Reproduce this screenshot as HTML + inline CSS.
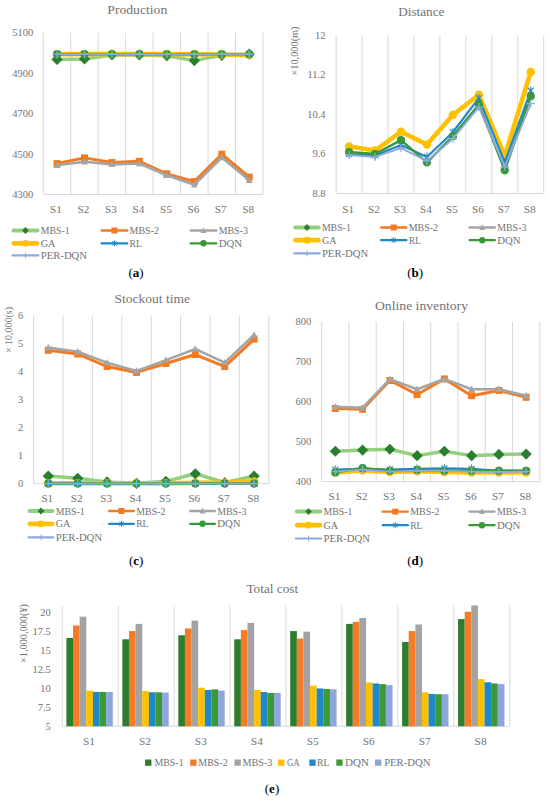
<!DOCTYPE html>
<html><head><meta charset="utf-8"><style>
html,body{margin:0;padding:0;background:#fff;}
svg{display:block;}
</style></head><body>
<svg width="550" height="800" viewBox="0 0 550 800">
<rect width="550" height="800" fill="#fff"/>
<line x1="43.30" y1="32.70" x2="43.30" y2="194.50" stroke="#D9D9D9" stroke-width="1"/>
<line x1="70.76" y1="32.70" x2="70.76" y2="194.50" stroke="#D9D9D9" stroke-width="1"/>
<line x1="98.22" y1="32.70" x2="98.22" y2="194.50" stroke="#D9D9D9" stroke-width="1"/>
<line x1="125.68" y1="32.70" x2="125.68" y2="194.50" stroke="#D9D9D9" stroke-width="1"/>
<line x1="153.14" y1="32.70" x2="153.14" y2="194.50" stroke="#D9D9D9" stroke-width="1"/>
<line x1="180.60" y1="32.70" x2="180.60" y2="194.50" stroke="#D9D9D9" stroke-width="1"/>
<line x1="208.06" y1="32.70" x2="208.06" y2="194.50" stroke="#D9D9D9" stroke-width="1"/>
<line x1="235.52" y1="32.70" x2="235.52" y2="194.50" stroke="#D9D9D9" stroke-width="1"/>
<line x1="262.98" y1="32.70" x2="262.98" y2="194.50" stroke="#D9D9D9" stroke-width="1"/>
<line x1="43.30" y1="194.50" x2="262.98" y2="194.50" stroke="#D9D9D9" stroke-width="1"/>
<text x="33.20" y="36.20" font-size="10.5" text-anchor="end" fill="#737373" font-weight="normal" font-family='"Liberation Serif", serif' >5100</text>
<text x="33.20" y="76.65" font-size="10.5" text-anchor="end" fill="#737373" font-weight="normal" font-family='"Liberation Serif", serif' >4900</text>
<text x="33.20" y="117.10" font-size="10.5" text-anchor="end" fill="#737373" font-weight="normal" font-family='"Liberation Serif", serif' >4700</text>
<text x="33.20" y="157.55" font-size="10.5" text-anchor="end" fill="#737373" font-weight="normal" font-family='"Liberation Serif", serif' >4500</text>
<text x="33.20" y="198.00" font-size="10.5" text-anchor="end" fill="#737373" font-weight="normal" font-family='"Liberation Serif", serif' >4300</text>
<text x="56.03" y="213.30" font-size="10.5" text-anchor="middle" fill="#737373" font-weight="normal" font-family='"Liberation Serif", serif' textLength="11.8" lengthAdjust="spacingAndGlyphs" >S1</text>
<text x="83.49" y="213.30" font-size="10.5" text-anchor="middle" fill="#737373" font-weight="normal" font-family='"Liberation Serif", serif' textLength="11.8" lengthAdjust="spacingAndGlyphs" >S2</text>
<text x="110.95" y="213.30" font-size="10.5" text-anchor="middle" fill="#737373" font-weight="normal" font-family='"Liberation Serif", serif' textLength="11.8" lengthAdjust="spacingAndGlyphs" >S3</text>
<text x="138.41" y="213.30" font-size="10.5" text-anchor="middle" fill="#737373" font-weight="normal" font-family='"Liberation Serif", serif' textLength="11.8" lengthAdjust="spacingAndGlyphs" >S4</text>
<text x="165.87" y="213.30" font-size="10.5" text-anchor="middle" fill="#737373" font-weight="normal" font-family='"Liberation Serif", serif' textLength="11.8" lengthAdjust="spacingAndGlyphs" >S5</text>
<text x="193.33" y="213.30" font-size="10.5" text-anchor="middle" fill="#737373" font-weight="normal" font-family='"Liberation Serif", serif' textLength="11.8" lengthAdjust="spacingAndGlyphs" >S6</text>
<text x="220.79" y="213.30" font-size="10.5" text-anchor="middle" fill="#737373" font-weight="normal" font-family='"Liberation Serif", serif' textLength="11.8" lengthAdjust="spacingAndGlyphs" >S7</text>
<text x="248.25" y="213.30" font-size="10.5" text-anchor="middle" fill="#737373" font-weight="normal" font-family='"Liberation Serif", serif' textLength="11.8" lengthAdjust="spacingAndGlyphs" >S8</text>
<text x="107.30" y="14.20" font-size="13.5" text-anchor="start" fill="#737373" font-weight="normal" font-family='"Liberation Serif", serif' textLength="60" lengthAdjust="spacingAndGlyphs" >Production</text>
<polyline points="57.03,59.40 84.49,58.99 111.95,54.95 139.41,54.95 166.87,55.76 194.33,60.61 221.79,55.35 249.25,54.14" fill="none" stroke="#92D07E" stroke-width="3.5" stroke-linejoin="round"/>
<polygon points="57.03,53.79699999999999 62.63,59.39699999999999 57.03,64.99699999999999 51.43,59.39699999999999" fill="#2A7F2E"/>
<polygon points="84.49,53.39249999999998 90.08999999999999,58.99249999999998 84.49,64.59249999999997 78.89,58.99249999999998" fill="#2A7F2E"/>
<polygon points="111.95,49.34749999999999 117.55,54.94749999999999 111.95,60.54749999999999 106.35000000000001,54.94749999999999" fill="#2A7F2E"/>
<polygon points="139.41,49.34749999999999 145.01,54.94749999999999 139.41,60.54749999999999 133.81,54.94749999999999" fill="#2A7F2E"/>
<polygon points="166.87,50.15649999999999 172.47,55.75649999999999 166.87,61.35649999999999 161.27,55.75649999999999" fill="#2A7F2E"/>
<polygon points="194.32999999999998,55.0105 199.92999999999998,60.6105 194.32999999999998,66.2105 188.73,60.6105" fill="#2A7F2E"/>
<polygon points="221.79000000000002,49.752 227.39000000000001,55.352000000000004 221.79000000000002,60.952000000000005 216.19000000000003,55.352000000000004" fill="#2A7F2E"/>
<polygon points="249.25,48.53849999999999 254.85,54.13849999999999 249.25,59.738499999999995 243.65,54.13849999999999" fill="#2A7F2E"/>
<polyline points="57.03,163.56 84.49,157.89 111.95,162.54 139.41,161.33 166.87,173.87 194.33,181.56 221.79,154.25 249.25,177.11" fill="none" stroke="#F47A22" stroke-width="3.0" stroke-linejoin="round"/>
<rect x="53.53" y="160.06" width="7.0" height="7.0" fill="#F47A22"/>
<rect x="80.99" y="154.39" width="7.0" height="7.0" fill="#F47A22"/>
<rect x="108.45" y="159.04" width="7.0" height="7.0" fill="#F47A22"/>
<rect x="135.91" y="157.83" width="7.0" height="7.0" fill="#F47A22"/>
<rect x="163.37" y="170.37" width="7.0" height="7.0" fill="#F47A22"/>
<rect x="190.83" y="178.06" width="7.0" height="7.0" fill="#F47A22"/>
<rect x="218.29" y="150.75" width="7.0" height="7.0" fill="#F47A22"/>
<rect x="245.75" y="173.61" width="7.0" height="7.0" fill="#F47A22"/>
<polyline points="57.03,165.17 84.49,161.74 111.95,164.36 139.41,163.56 166.87,175.29 194.33,184.79 221.79,157.49 249.25,180.34" fill="none" stroke="#A5A5A5" stroke-width="2.6" stroke-linejoin="round"/>
<polygon points="57.03,161.43 60.43,167.89 53.63,167.89" fill="#A5A5A5"/>
<polygon points="84.49,158.00 87.89,164.46 81.09,164.46" fill="#A5A5A5"/>
<polygon points="111.95,160.62 115.35,167.08 108.55,167.08" fill="#A5A5A5"/>
<polygon points="139.41,159.82 142.81,166.28 136.01,166.28" fill="#A5A5A5"/>
<polygon points="166.87,171.55 170.27,178.01 163.47,178.01" fill="#A5A5A5"/>
<polygon points="194.32999999999998,181.05 197.73,187.51 190.93,187.51" fill="#A5A5A5"/>
<polygon points="221.79000000000002,153.75 225.19,160.21 218.39,160.21" fill="#A5A5A5"/>
<polygon points="249.25,176.60 252.65,183.06 245.85,183.06" fill="#A5A5A5"/>
<polyline points="57.03,54.14 84.49,54.14 111.95,54.14 139.41,54.14 166.87,54.14 194.33,54.34 221.79,54.54 249.25,55.15" fill="none" stroke="#FFC000" stroke-width="4.6" stroke-linejoin="round"/>
<circle cx="57.03" cy="54.14" r="4.2" fill="#FFC000"/>
<circle cx="84.49" cy="54.14" r="4.2" fill="#FFC000"/>
<circle cx="111.95" cy="54.14" r="4.2" fill="#FFC000"/>
<circle cx="139.41" cy="54.14" r="4.2" fill="#FFC000"/>
<circle cx="166.87" cy="54.14" r="4.2" fill="#FFC000"/>
<circle cx="194.33" cy="54.34" r="4.2" fill="#FFC000"/>
<circle cx="221.79" cy="54.54" r="4.2" fill="#FFC000"/>
<circle cx="249.25" cy="55.15" r="4.2" fill="#FFC000"/>
<polyline points="57.03,54.14 84.49,54.14 111.95,54.14 139.41,54.14 166.87,54.14 194.33,54.14 221.79,54.14 249.25,54.14" fill="none" stroke="#1F88C8" stroke-width="2.2" stroke-linejoin="round"/>
<path d="M54.01,51.11L60.05,57.16M60.05,51.11L54.01,57.16M57.03,49.94L57.03,58.34" stroke="#1F88C8" stroke-width="1.1" fill="none"/>
<path d="M81.47,51.11L87.51,57.16M87.51,51.11L81.47,57.16M84.49,49.94L84.49,58.34" stroke="#1F88C8" stroke-width="1.1" fill="none"/>
<path d="M108.93,51.11L114.97,57.16M114.97,51.11L108.93,57.16M111.95,49.94L111.95,58.34" stroke="#1F88C8" stroke-width="1.1" fill="none"/>
<path d="M136.39,51.11L142.43,57.16M142.43,51.11L136.39,57.16M139.41,49.94L139.41,58.34" stroke="#1F88C8" stroke-width="1.1" fill="none"/>
<path d="M163.85,51.11L169.89,57.16M169.89,51.11L163.85,57.16M166.87,49.94L166.87,58.34" stroke="#1F88C8" stroke-width="1.1" fill="none"/>
<path d="M191.31,51.11L197.35,57.16M197.35,51.11L191.31,57.16M194.33,49.94L194.33,58.34" stroke="#1F88C8" stroke-width="1.1" fill="none"/>
<path d="M218.77,51.11L224.81,57.16M224.81,51.11L218.77,57.16M221.79,49.94L221.79,58.34" stroke="#1F88C8" stroke-width="1.1" fill="none"/>
<path d="M246.23,51.11L252.27,57.16M252.27,51.11L246.23,57.16M249.25,49.94L249.25,58.34" stroke="#1F88C8" stroke-width="1.1" fill="none"/>
<polyline points="57.03,54.14 84.49,54.14 111.95,54.14 139.41,54.14 166.87,54.14 194.33,54.14 221.79,54.14 249.25,54.14" fill="none" stroke="#38993A" stroke-width="2.4" stroke-linejoin="round"/>
<circle cx="57.03" cy="54.14" r="4.1" fill="#38993A"/>
<circle cx="84.49" cy="54.14" r="4.1" fill="#38993A"/>
<circle cx="111.95" cy="54.14" r="4.1" fill="#38993A"/>
<circle cx="139.41" cy="54.14" r="4.1" fill="#38993A"/>
<circle cx="166.87" cy="54.14" r="4.1" fill="#38993A"/>
<circle cx="194.33" cy="54.14" r="4.1" fill="#38993A"/>
<circle cx="221.79" cy="54.14" r="4.1" fill="#38993A"/>
<circle cx="249.25" cy="54.14" r="4.1" fill="#38993A"/>
<polyline points="57.03,54.14 84.49,54.14 111.95,54.14 139.41,54.14 166.87,54.14 194.33,54.14 221.79,54.14 249.25,54.14" fill="none" stroke="#8EA9DB" stroke-width="1.9" stroke-linejoin="round"/>
<path d="M53.03,54.14L61.03,54.14M57.03,50.14L57.03,58.14" stroke="#8EA9DB" stroke-width="1.2" fill="none"/>
<path d="M80.49,54.14L88.49,54.14M84.49,50.14L84.49,58.14" stroke="#8EA9DB" stroke-width="1.2" fill="none"/>
<path d="M107.95,54.14L115.95,54.14M111.95,50.14L111.95,58.14" stroke="#8EA9DB" stroke-width="1.2" fill="none"/>
<path d="M135.41,54.14L143.41,54.14M139.41,50.14L139.41,58.14" stroke="#8EA9DB" stroke-width="1.2" fill="none"/>
<path d="M162.87,54.14L170.87,54.14M166.87,50.14L166.87,58.14" stroke="#8EA9DB" stroke-width="1.2" fill="none"/>
<path d="M190.33,54.14L198.33,54.14M194.33,50.14L194.33,58.14" stroke="#8EA9DB" stroke-width="1.2" fill="none"/>
<path d="M217.79,54.14L225.79,54.14M221.79,50.14L221.79,58.14" stroke="#8EA9DB" stroke-width="1.2" fill="none"/>
<path d="M245.25,54.14L253.25,54.14M249.25,50.14L249.25,58.14" stroke="#8EA9DB" stroke-width="1.2" fill="none"/>
<line x1="13.50" y1="230.50" x2="37.50" y2="230.50" stroke="#92D07E" stroke-width="4.0" stroke-linecap="round"/>
<polygon points="25.5,227.1 28.9,230.5 25.5,233.9 22.1,230.5" fill="#2A7F2E"/>
<text x="40.70" y="234.10" font-size="10.7" text-anchor="start" fill="#737373" font-weight="normal" font-family='"Liberation Serif", serif' textLength="28.9" lengthAdjust="spacingAndGlyphs" >MBS-1</text>
<line x1="101.60" y1="230.50" x2="127.20" y2="230.50" stroke="#F47A22" stroke-width="2.4" stroke-linecap="round"/>
<rect x="111.40" y="227.50" width="6.0" height="6.0" fill="#F47A22"/>
<text x="129.60" y="234.10" font-size="10.7" text-anchor="start" fill="#737373" font-weight="normal" font-family='"Liberation Serif", serif' textLength="29.4" lengthAdjust="spacingAndGlyphs" >MBS-2</text>
<line x1="190.70" y1="230.50" x2="216.30" y2="230.50" stroke="#A5A5A5" stroke-width="2.4" stroke-linecap="round"/>
<polygon points="203.5,227.20 206.50,232.90 200.50,232.90" fill="#A5A5A5"/>
<text x="218.70" y="234.10" font-size="10.7" text-anchor="start" fill="#737373" font-weight="normal" font-family='"Liberation Serif", serif' textLength="29.2" lengthAdjust="spacingAndGlyphs" >MBS-3</text>
<line x1="13.90" y1="243.30" x2="37.10" y2="243.30" stroke="#FFC000" stroke-width="4.8" stroke-linecap="round"/>
<circle cx="25.50" cy="243.30" r="3.4" fill="#FFC000"/>
<text x="40.70" y="246.90" font-size="10.7" text-anchor="start" fill="#737373" font-weight="normal" font-family='"Liberation Serif", serif' textLength="14.7" lengthAdjust="spacingAndGlyphs" >GA</text>
<line x1="101.50" y1="243.30" x2="127.30" y2="243.30" stroke="#1F88C8" stroke-width="2.2" stroke-linecap="round"/>
<path d="M112.24,241.14L116.56,245.46M116.56,241.14L112.24,245.46M114.40,240.30L114.40,246.30" stroke="#1F88C8" stroke-width="1.0" fill="none"/>
<text x="129.60" y="246.90" font-size="10.7" text-anchor="start" fill="#737373" font-weight="normal" font-family='"Liberation Serif", serif' textLength="12.3" lengthAdjust="spacingAndGlyphs" >RL</text>
<line x1="190.60" y1="243.30" x2="216.40" y2="243.30" stroke="#38993A" stroke-width="2.2" stroke-linecap="round"/>
<circle cx="203.50" cy="243.30" r="3.2" fill="#38993A"/>
<text x="218.70" y="246.90" font-size="10.7" text-anchor="start" fill="#737373" font-weight="normal" font-family='"Liberation Serif", serif' textLength="23.4" lengthAdjust="spacingAndGlyphs" >DQN</text>
<line x1="12.60" y1="255.40" x2="38.40" y2="255.40" stroke="#8EA9DB" stroke-width="2.2" stroke-linecap="round"/>
<path d="M22.60,255.40L28.40,255.40M25.50,252.50L25.50,258.30" stroke="#8EA9DB" stroke-width="1.0" fill="none"/>
<text x="40.70" y="259.00" font-size="10.7" text-anchor="start" fill="#737373" font-weight="normal" font-family='"Liberation Serif", serif' textLength="46.4" lengthAdjust="spacingAndGlyphs" >PER-DQN</text>
<text x="136" y="277" font-size="13" text-anchor="middle" fill="#000" font-family='"Liberation Serif", serif'>(<tspan font-weight="bold">a</tspan>)</text>
<line x1="336.10" y1="35.40" x2="336.10" y2="193.50" stroke="#D9D9D9" stroke-width="1"/>
<line x1="362.05" y1="35.40" x2="362.05" y2="193.50" stroke="#D9D9D9" stroke-width="1"/>
<line x1="388.00" y1="35.40" x2="388.00" y2="193.50" stroke="#D9D9D9" stroke-width="1"/>
<line x1="413.95" y1="35.40" x2="413.95" y2="193.50" stroke="#D9D9D9" stroke-width="1"/>
<line x1="439.90" y1="35.40" x2="439.90" y2="193.50" stroke="#D9D9D9" stroke-width="1"/>
<line x1="465.85" y1="35.40" x2="465.85" y2="193.50" stroke="#D9D9D9" stroke-width="1"/>
<line x1="491.80" y1="35.40" x2="491.80" y2="193.50" stroke="#D9D9D9" stroke-width="1"/>
<line x1="517.75" y1="35.40" x2="517.75" y2="193.50" stroke="#D9D9D9" stroke-width="1"/>
<line x1="543.70" y1="35.40" x2="543.70" y2="193.50" stroke="#D9D9D9" stroke-width="1"/>
<line x1="336.10" y1="193.50" x2="543.70" y2="193.50" stroke="#D9D9D9" stroke-width="1"/>
<text x="325.50" y="38.90" font-size="10.5" text-anchor="end" fill="#737373" font-weight="normal" font-family='"Liberation Serif", serif' >12</text>
<text x="325.50" y="78.43" font-size="10.5" text-anchor="end" fill="#737373" font-weight="normal" font-family='"Liberation Serif", serif' >11.2</text>
<text x="325.50" y="117.95" font-size="10.5" text-anchor="end" fill="#737373" font-weight="normal" font-family='"Liberation Serif", serif' >10.4</text>
<text x="325.50" y="157.48" font-size="10.5" text-anchor="end" fill="#737373" font-weight="normal" font-family='"Liberation Serif", serif' >9.6</text>
<text x="325.50" y="197.00" font-size="10.5" text-anchor="end" fill="#737373" font-weight="normal" font-family='"Liberation Serif", serif' >8.8</text>
<text x="348.08" y="212.50" font-size="10.5" text-anchor="middle" fill="#737373" font-weight="normal" font-family='"Liberation Serif", serif' textLength="11.8" lengthAdjust="spacingAndGlyphs" >S1</text>
<text x="374.03" y="212.50" font-size="10.5" text-anchor="middle" fill="#737373" font-weight="normal" font-family='"Liberation Serif", serif' textLength="11.8" lengthAdjust="spacingAndGlyphs" >S2</text>
<text x="399.98" y="212.50" font-size="10.5" text-anchor="middle" fill="#737373" font-weight="normal" font-family='"Liberation Serif", serif' textLength="11.8" lengthAdjust="spacingAndGlyphs" >S3</text>
<text x="425.93" y="212.50" font-size="10.5" text-anchor="middle" fill="#737373" font-weight="normal" font-family='"Liberation Serif", serif' textLength="11.8" lengthAdjust="spacingAndGlyphs" >S4</text>
<text x="451.88" y="212.50" font-size="10.5" text-anchor="middle" fill="#737373" font-weight="normal" font-family='"Liberation Serif", serif' textLength="11.8" lengthAdjust="spacingAndGlyphs" >S5</text>
<text x="477.83" y="212.50" font-size="10.5" text-anchor="middle" fill="#737373" font-weight="normal" font-family='"Liberation Serif", serif' textLength="11.8" lengthAdjust="spacingAndGlyphs" >S6</text>
<text x="503.77" y="212.50" font-size="10.5" text-anchor="middle" fill="#737373" font-weight="normal" font-family='"Liberation Serif", serif' textLength="11.8" lengthAdjust="spacingAndGlyphs" >S7</text>
<text x="529.73" y="212.50" font-size="10.5" text-anchor="middle" fill="#737373" font-weight="normal" font-family='"Liberation Serif", serif' textLength="11.8" lengthAdjust="spacingAndGlyphs" >S8</text>
<text x="398.20" y="16.40" font-size="13.5" text-anchor="start" fill="#737373" font-weight="normal" font-family='"Liberation Serif", serif' textLength="46.3" lengthAdjust="spacingAndGlyphs" >Distance</text>
<polyline points="349.08,146.56 375.03,150.52 400.98,131.74 426.93,144.59 452.88,114.94 478.83,94.69 504.77,155.95 530.73,71.96" fill="none" stroke="#FFC000" stroke-width="4.6" stroke-linejoin="round"/>
<circle cx="349.08" cy="146.56" r="4.2" fill="#FFC000"/>
<circle cx="375.03" cy="150.52" r="4.2" fill="#FFC000"/>
<circle cx="400.98" cy="131.74" r="4.2" fill="#FFC000"/>
<circle cx="426.93" cy="144.59" r="4.2" fill="#FFC000"/>
<circle cx="452.88" cy="114.94" r="4.2" fill="#FFC000"/>
<circle cx="478.83" cy="94.69" r="4.2" fill="#FFC000"/>
<circle cx="504.77" cy="155.95" r="4.2" fill="#FFC000"/>
<circle cx="530.73" cy="71.96" r="4.2" fill="#FFC000"/>
<polyline points="349.08,153.98 375.03,155.46 400.98,145.08 426.93,156.94 452.88,132.24 478.83,98.15 504.77,162.37 530.73,90.73" fill="none" stroke="#1F88C8" stroke-width="2.2" stroke-linejoin="round"/>
<path d="M346.05,150.95L352.10,157.00M352.10,150.95L346.05,157.00M349.08,149.78L349.08,158.18" stroke="#1F88C8" stroke-width="1.1" fill="none"/>
<path d="M372.00,152.43L378.05,158.48M378.05,152.43L372.00,158.48M375.03,151.26L375.03,159.66" stroke="#1F88C8" stroke-width="1.1" fill="none"/>
<path d="M397.95,142.06L404.00,148.11M404.00,142.06L397.95,148.11M400.98,140.88L400.98,149.28" stroke="#1F88C8" stroke-width="1.1" fill="none"/>
<path d="M423.90,153.92L429.95,159.96M429.95,153.92L423.90,159.96M426.93,152.74L426.93,161.14" stroke="#1F88C8" stroke-width="1.1" fill="none"/>
<path d="M449.85,129.21L455.90,135.26M455.90,129.21L449.85,135.26M452.88,128.04L452.88,136.44" stroke="#1F88C8" stroke-width="1.1" fill="none"/>
<path d="M475.80,95.12L481.85,101.17M481.85,95.12L475.80,101.17M478.83,93.95L478.83,102.35" stroke="#1F88C8" stroke-width="1.1" fill="none"/>
<path d="M501.75,159.35L507.80,165.40M507.80,159.35L501.75,165.40M504.77,158.17L504.77,166.57" stroke="#1F88C8" stroke-width="1.1" fill="none"/>
<path d="M527.70,87.71L533.75,93.76M533.75,87.71L527.70,93.76M530.73,86.53L530.73,94.93" stroke="#1F88C8" stroke-width="1.1" fill="none"/>
<polyline points="349.08,152.00 375.03,153.98 400.98,140.14 426.93,162.37 452.88,136.19 478.83,104.57 504.77,170.28 530.73,96.17" fill="none" stroke="#38993A" stroke-width="2.4" stroke-linejoin="round"/>
<circle cx="349.08" cy="152.00" r="4.1" fill="#38993A"/>
<circle cx="375.03" cy="153.98" r="4.1" fill="#38993A"/>
<circle cx="400.98" cy="140.14" r="4.1" fill="#38993A"/>
<circle cx="426.93" cy="162.37" r="4.1" fill="#38993A"/>
<circle cx="452.88" cy="136.19" r="4.1" fill="#38993A"/>
<circle cx="478.83" cy="104.57" r="4.1" fill="#38993A"/>
<circle cx="504.77" cy="170.28" r="4.1" fill="#38993A"/>
<circle cx="530.73" cy="96.17" r="4.1" fill="#38993A"/>
<polyline points="349.08,154.96 375.03,156.94 400.98,148.05 426.93,160.89 452.88,138.66 478.83,107.04 504.77,166.82 530.73,103.58" fill="none" stroke="#8EA9DB" stroke-width="1.9" stroke-linejoin="round"/>
<path d="M345.08,154.96L353.08,154.96M349.08,150.96L349.08,158.96" stroke="#8EA9DB" stroke-width="1.2" fill="none"/>
<path d="M371.03,156.94L379.03,156.94M375.03,152.94L375.03,160.94" stroke="#8EA9DB" stroke-width="1.2" fill="none"/>
<path d="M396.98,148.05L404.98,148.05M400.98,144.05L400.98,152.05" stroke="#8EA9DB" stroke-width="1.2" fill="none"/>
<path d="M422.93,160.89L430.93,160.89M426.93,156.89L426.93,164.89" stroke="#8EA9DB" stroke-width="1.2" fill="none"/>
<path d="M448.88,138.66L456.88,138.66M452.88,134.66L452.88,142.66" stroke="#8EA9DB" stroke-width="1.2" fill="none"/>
<path d="M474.83,107.04L482.83,107.04M478.83,103.04L478.83,111.04" stroke="#8EA9DB" stroke-width="1.2" fill="none"/>
<path d="M500.77,166.82L508.77,166.82M504.77,162.82L504.77,170.82" stroke="#8EA9DB" stroke-width="1.2" fill="none"/>
<path d="M526.73,103.58L534.73,103.58M530.73,99.58L530.73,107.58" stroke="#8EA9DB" stroke-width="1.2" fill="none"/>
<line x1="295.20" y1="227.50" x2="318.70" y2="227.50" stroke="#92D07E" stroke-width="4.0" stroke-linecap="round"/>
<polygon points="306.95,224.1 310.34999999999997,227.5 306.95,230.9 303.55,227.5" fill="#2A7F2E"/>
<text x="321.90" y="231.10" font-size="10.7" text-anchor="start" fill="#737373" font-weight="normal" font-family='"Liberation Serif", serif' textLength="28.9" lengthAdjust="spacingAndGlyphs" >MBS-1</text>
<line x1="381.20" y1="227.50" x2="406.30" y2="227.50" stroke="#F47A22" stroke-width="2.4" stroke-linecap="round"/>
<rect x="390.75" y="224.50" width="6.0" height="6.0" fill="#F47A22"/>
<text x="408.70" y="231.10" font-size="10.7" text-anchor="start" fill="#737373" font-weight="normal" font-family='"Liberation Serif", serif' textLength="29.4" lengthAdjust="spacingAndGlyphs" >MBS-2</text>
<line x1="469.70" y1="227.50" x2="494.80" y2="227.50" stroke="#A5A5A5" stroke-width="2.4" stroke-linecap="round"/>
<polygon points="482.25,224.20 485.25,229.90 479.25,229.90" fill="#A5A5A5"/>
<text x="497.20" y="231.10" font-size="10.7" text-anchor="start" fill="#737373" font-weight="normal" font-family='"Liberation Serif", serif' textLength="29.2" lengthAdjust="spacingAndGlyphs" >MBS-3</text>
<line x1="295.60" y1="240.20" x2="318.30" y2="240.20" stroke="#FFC000" stroke-width="4.8" stroke-linecap="round"/>
<circle cx="306.95" cy="240.20" r="3.4" fill="#FFC000"/>
<text x="321.90" y="243.80" font-size="10.7" text-anchor="start" fill="#737373" font-weight="normal" font-family='"Liberation Serif", serif' textLength="14.7" lengthAdjust="spacingAndGlyphs" >GA</text>
<line x1="381.10" y1="240.20" x2="406.40" y2="240.20" stroke="#1F88C8" stroke-width="2.2" stroke-linecap="round"/>
<path d="M391.59,238.04L395.91,242.36M395.91,238.04L391.59,242.36M393.75,237.20L393.75,243.20" stroke="#1F88C8" stroke-width="1.0" fill="none"/>
<text x="408.70" y="243.80" font-size="10.7" text-anchor="start" fill="#737373" font-weight="normal" font-family='"Liberation Serif", serif' textLength="12.3" lengthAdjust="spacingAndGlyphs" >RL</text>
<line x1="469.60" y1="240.20" x2="494.90" y2="240.20" stroke="#38993A" stroke-width="2.2" stroke-linecap="round"/>
<circle cx="482.25" cy="240.20" r="3.2" fill="#38993A"/>
<text x="497.20" y="243.80" font-size="10.7" text-anchor="start" fill="#737373" font-weight="normal" font-family='"Liberation Serif", serif' textLength="23.4" lengthAdjust="spacingAndGlyphs" >DQN</text>
<line x1="294.30" y1="253.40" x2="319.60" y2="253.40" stroke="#8EA9DB" stroke-width="2.2" stroke-linecap="round"/>
<path d="M304.05,253.40L309.85,253.40M306.95,250.50L306.95,256.30" stroke="#8EA9DB" stroke-width="1.0" fill="none"/>
<text x="321.90" y="257.00" font-size="10.7" text-anchor="start" fill="#737373" font-weight="normal" font-family='"Liberation Serif", serif' textLength="46.4" lengthAdjust="spacingAndGlyphs" >PER-DQN</text>
<text x="415.2" y="277" font-size="13" text-anchor="middle" fill="#000" font-family='"Liberation Serif", serif'>(<tspan font-weight="bold">b</tspan>)</text>
<text x="0" y="0" transform="translate(298,51) rotate(-90)" font-size="10" text-anchor="middle" fill="#737373" font-family='"Liberation Serif", serif' textLength="49" lengthAdjust="spacingAndGlyphs">×10,000(m)</text>
<line x1="33.60" y1="315.60" x2="33.60" y2="483.60" stroke="#D9D9D9" stroke-width="1"/>
<line x1="63.00" y1="315.60" x2="63.00" y2="483.60" stroke="#D9D9D9" stroke-width="1"/>
<line x1="92.40" y1="315.60" x2="92.40" y2="483.60" stroke="#D9D9D9" stroke-width="1"/>
<line x1="121.80" y1="315.60" x2="121.80" y2="483.60" stroke="#D9D9D9" stroke-width="1"/>
<line x1="151.20" y1="315.60" x2="151.20" y2="483.60" stroke="#D9D9D9" stroke-width="1"/>
<line x1="180.60" y1="315.60" x2="180.60" y2="483.60" stroke="#D9D9D9" stroke-width="1"/>
<line x1="210.00" y1="315.60" x2="210.00" y2="483.60" stroke="#D9D9D9" stroke-width="1"/>
<line x1="239.40" y1="315.60" x2="239.40" y2="483.60" stroke="#D9D9D9" stroke-width="1"/>
<line x1="268.80" y1="315.60" x2="268.80" y2="483.60" stroke="#D9D9D9" stroke-width="1"/>
<line x1="33.60" y1="483.60" x2="268.80" y2="483.60" stroke="#D9D9D9" stroke-width="1"/>
<text x="20.50" y="487.10" font-size="10.5" text-anchor="middle" fill="#737373" font-weight="normal" font-family='"Liberation Serif", serif' >0</text>
<text x="20.50" y="459.10" font-size="10.5" text-anchor="middle" fill="#737373" font-weight="normal" font-family='"Liberation Serif", serif' >1</text>
<text x="20.50" y="431.10" font-size="10.5" text-anchor="middle" fill="#737373" font-weight="normal" font-family='"Liberation Serif", serif' >2</text>
<text x="20.50" y="403.10" font-size="10.5" text-anchor="middle" fill="#737373" font-weight="normal" font-family='"Liberation Serif", serif' >3</text>
<text x="20.50" y="375.10" font-size="10.5" text-anchor="middle" fill="#737373" font-weight="normal" font-family='"Liberation Serif", serif' >4</text>
<text x="20.50" y="347.10" font-size="10.5" text-anchor="middle" fill="#737373" font-weight="normal" font-family='"Liberation Serif", serif' >5</text>
<text x="20.50" y="319.10" font-size="10.5" text-anchor="middle" fill="#737373" font-weight="normal" font-family='"Liberation Serif", serif' >6</text>
<text x="47.30" y="501.90" font-size="10.5" text-anchor="middle" fill="#737373" font-weight="normal" font-family='"Liberation Serif", serif' textLength="11.8" lengthAdjust="spacingAndGlyphs" >S1</text>
<text x="76.70" y="501.90" font-size="10.5" text-anchor="middle" fill="#737373" font-weight="normal" font-family='"Liberation Serif", serif' textLength="11.8" lengthAdjust="spacingAndGlyphs" >S2</text>
<text x="106.10" y="501.90" font-size="10.5" text-anchor="middle" fill="#737373" font-weight="normal" font-family='"Liberation Serif", serif' textLength="11.8" lengthAdjust="spacingAndGlyphs" >S3</text>
<text x="135.50" y="501.90" font-size="10.5" text-anchor="middle" fill="#737373" font-weight="normal" font-family='"Liberation Serif", serif' textLength="11.8" lengthAdjust="spacingAndGlyphs" >S4</text>
<text x="164.90" y="501.90" font-size="10.5" text-anchor="middle" fill="#737373" font-weight="normal" font-family='"Liberation Serif", serif' textLength="11.8" lengthAdjust="spacingAndGlyphs" >S5</text>
<text x="194.30" y="501.90" font-size="10.5" text-anchor="middle" fill="#737373" font-weight="normal" font-family='"Liberation Serif", serif' textLength="11.8" lengthAdjust="spacingAndGlyphs" >S6</text>
<text x="223.70" y="501.90" font-size="10.5" text-anchor="middle" fill="#737373" font-weight="normal" font-family='"Liberation Serif", serif' textLength="11.8" lengthAdjust="spacingAndGlyphs" >S7</text>
<text x="253.10" y="501.90" font-size="10.5" text-anchor="middle" fill="#737373" font-weight="normal" font-family='"Liberation Serif", serif' textLength="11.8" lengthAdjust="spacingAndGlyphs" >S8</text>
<text x="114.40" y="302.60" font-size="13.5" text-anchor="start" fill="#737373" font-weight="normal" font-family='"Liberation Serif", serif' textLength="75.6" lengthAdjust="spacingAndGlyphs" >Stockout time</text>
<polyline points="48.30,476.04 77.70,478.28 107.10,481.92 136.50,483.32 165.90,481.36 195.30,473.80 224.70,482.48 254.10,476.04" fill="none" stroke="#92D07E" stroke-width="3.5" stroke-linejoin="round"/>
<polygon points="48.3,470.44 53.9,476.04 48.3,481.64000000000004 42.699999999999996,476.04" fill="#2A7F2E"/>
<polygon points="77.69999999999999,472.68 83.29999999999998,478.28000000000003 77.69999999999999,483.88000000000005 72.1,478.28000000000003" fill="#2A7F2E"/>
<polygon points="107.1,476.32 112.69999999999999,481.92 107.1,487.52000000000004 101.5,481.92" fill="#2A7F2E"/>
<polygon points="136.5,477.72 142.1,483.32000000000005 136.5,488.9200000000001 130.9,483.32000000000005" fill="#2A7F2E"/>
<polygon points="165.89999999999998,475.76 171.49999999999997,481.36 165.89999999999998,486.96000000000004 160.29999999999998,481.36" fill="#2A7F2E"/>
<polygon points="195.29999999999998,468.2 200.89999999999998,473.8 195.29999999999998,479.40000000000003 189.7,473.8" fill="#2A7F2E"/>
<polygon points="224.7,476.88 230.29999999999998,482.48 224.7,488.08000000000004 219.1,482.48" fill="#2A7F2E"/>
<polygon points="254.1,470.44 259.7,476.04 254.1,481.64000000000004 248.5,476.04" fill="#2A7F2E"/>
<polyline points="48.30,350.32 77.70,353.96 107.10,366.56 136.50,372.44 165.90,363.48 195.30,354.52 224.70,366.56 254.10,339.12" fill="none" stroke="#F47A22" stroke-width="3.0" stroke-linejoin="round"/>
<rect x="44.80" y="346.82" width="7.0" height="7.0" fill="#F47A22"/>
<rect x="74.20" y="350.46" width="7.0" height="7.0" fill="#F47A22"/>
<rect x="103.60" y="363.06" width="7.0" height="7.0" fill="#F47A22"/>
<rect x="133.00" y="368.94" width="7.0" height="7.0" fill="#F47A22"/>
<rect x="162.40" y="359.98" width="7.0" height="7.0" fill="#F47A22"/>
<rect x="191.80" y="351.02" width="7.0" height="7.0" fill="#F47A22"/>
<rect x="221.20" y="363.06" width="7.0" height="7.0" fill="#F47A22"/>
<rect x="250.60" y="335.62" width="7.0" height="7.0" fill="#F47A22"/>
<polyline points="48.30,347.52 77.70,351.72 107.10,362.64 136.50,371.04 165.90,360.12 195.30,348.92 224.70,362.64 254.10,334.92" fill="none" stroke="#A5A5A5" stroke-width="2.6" stroke-linejoin="round"/>
<polygon points="48.3,343.78 51.70,350.24 44.90,350.24" fill="#A5A5A5"/>
<polygon points="77.69999999999999,347.98 81.10,354.44 74.30,354.44" fill="#A5A5A5"/>
<polygon points="107.1,358.90 110.50,365.36 103.70,365.36" fill="#A5A5A5"/>
<polygon points="136.5,367.30 139.90,373.76 133.10,373.76" fill="#A5A5A5"/>
<polygon points="165.89999999999998,356.38 169.30,362.84 162.50,362.84" fill="#A5A5A5"/>
<polygon points="195.29999999999998,345.18 198.70,351.64 191.90,351.64" fill="#A5A5A5"/>
<polygon points="224.7,358.90 228.10,365.36 221.30,365.36" fill="#A5A5A5"/>
<polygon points="254.1,331.18 257.50,337.64 250.70,337.64" fill="#A5A5A5"/>
<polyline points="48.30,483.32 77.70,483.32 107.10,483.32 136.50,483.32 165.90,483.32 195.30,482.76 224.70,482.76 254.10,481.36" fill="none" stroke="#FFC000" stroke-width="4.6" stroke-linejoin="round"/>
<circle cx="48.30" cy="483.32" r="4.2" fill="#FFC000"/>
<circle cx="77.70" cy="483.32" r="4.2" fill="#FFC000"/>
<circle cx="107.10" cy="483.32" r="4.2" fill="#FFC000"/>
<circle cx="136.50" cy="483.32" r="4.2" fill="#FFC000"/>
<circle cx="165.90" cy="483.32" r="4.2" fill="#FFC000"/>
<circle cx="195.30" cy="482.76" r="4.2" fill="#FFC000"/>
<circle cx="224.70" cy="482.76" r="4.2" fill="#FFC000"/>
<circle cx="254.10" cy="481.36" r="4.2" fill="#FFC000"/>
<polyline points="48.30,483.60 77.70,483.60 107.10,483.60 136.50,483.60 165.90,483.60 195.30,483.60 224.70,483.60 254.10,483.60" fill="none" stroke="#1F88C8" stroke-width="2.2" stroke-linejoin="round"/>
<path d="M45.28,480.58L51.32,486.62M51.32,480.58L45.28,486.62M48.30,479.40L48.30,487.80" stroke="#1F88C8" stroke-width="1.1" fill="none"/>
<path d="M74.68,480.58L80.72,486.62M80.72,480.58L74.68,486.62M77.70,479.40L77.70,487.80" stroke="#1F88C8" stroke-width="1.1" fill="none"/>
<path d="M104.08,480.58L110.12,486.62M110.12,480.58L104.08,486.62M107.10,479.40L107.10,487.80" stroke="#1F88C8" stroke-width="1.1" fill="none"/>
<path d="M133.48,480.58L139.52,486.62M139.52,480.58L133.48,486.62M136.50,479.40L136.50,487.80" stroke="#1F88C8" stroke-width="1.1" fill="none"/>
<path d="M162.88,480.58L168.92,486.62M168.92,480.58L162.88,486.62M165.90,479.40L165.90,487.80" stroke="#1F88C8" stroke-width="1.1" fill="none"/>
<path d="M192.28,480.58L198.32,486.62M198.32,480.58L192.28,486.62M195.30,479.40L195.30,487.80" stroke="#1F88C8" stroke-width="1.1" fill="none"/>
<path d="M221.68,480.58L227.72,486.62M227.72,480.58L221.68,486.62M224.70,479.40L224.70,487.80" stroke="#1F88C8" stroke-width="1.1" fill="none"/>
<path d="M251.08,480.58L257.12,486.62M257.12,480.58L251.08,486.62M254.10,479.40L254.10,487.80" stroke="#1F88C8" stroke-width="1.1" fill="none"/>
<polyline points="48.30,483.60 77.70,483.60 107.10,483.60 136.50,483.60 165.90,483.60 195.30,483.60 224.70,483.60 254.10,483.60" fill="none" stroke="#38993A" stroke-width="2.4" stroke-linejoin="round"/>
<circle cx="48.30" cy="483.60" r="4.1" fill="#38993A"/>
<circle cx="77.70" cy="483.60" r="4.1" fill="#38993A"/>
<circle cx="107.10" cy="483.60" r="4.1" fill="#38993A"/>
<circle cx="136.50" cy="483.60" r="4.1" fill="#38993A"/>
<circle cx="165.90" cy="483.60" r="4.1" fill="#38993A"/>
<circle cx="195.30" cy="483.60" r="4.1" fill="#38993A"/>
<circle cx="224.70" cy="483.60" r="4.1" fill="#38993A"/>
<circle cx="254.10" cy="483.60" r="4.1" fill="#38993A"/>
<polyline points="48.30,483.60 77.70,483.60 107.10,483.60 136.50,483.60 165.90,483.60 195.30,483.60 224.70,483.60 254.10,483.60" fill="none" stroke="#8EA9DB" stroke-width="1.9" stroke-linejoin="round"/>
<path d="M44.30,483.60L52.30,483.60M48.30,479.60L48.30,487.60" stroke="#8EA9DB" stroke-width="1.2" fill="none"/>
<path d="M73.70,483.60L81.70,483.60M77.70,479.60L77.70,487.60" stroke="#8EA9DB" stroke-width="1.2" fill="none"/>
<path d="M103.10,483.60L111.10,483.60M107.10,479.60L107.10,487.60" stroke="#8EA9DB" stroke-width="1.2" fill="none"/>
<path d="M132.50,483.60L140.50,483.60M136.50,479.60L136.50,487.60" stroke="#8EA9DB" stroke-width="1.2" fill="none"/>
<path d="M161.90,483.60L169.90,483.60M165.90,479.60L165.90,487.60" stroke="#8EA9DB" stroke-width="1.2" fill="none"/>
<path d="M191.30,483.60L199.30,483.60M195.30,479.60L195.30,487.60" stroke="#8EA9DB" stroke-width="1.2" fill="none"/>
<path d="M220.70,483.60L228.70,483.60M224.70,479.60L224.70,487.60" stroke="#8EA9DB" stroke-width="1.2" fill="none"/>
<path d="M250.10,483.60L258.10,483.60M254.10,479.60L254.10,487.60" stroke="#8EA9DB" stroke-width="1.2" fill="none"/>
<line x1="29.50" y1="511.00" x2="52.50" y2="511.00" stroke="#92D07E" stroke-width="4.0" stroke-linecap="round"/>
<polygon points="41.0,507.6 44.4,511 41.0,514.4 37.6,511" fill="#2A7F2E"/>
<text x="55.70" y="514.60" font-size="10.7" text-anchor="start" fill="#737373" font-weight="normal" font-family='"Liberation Serif", serif' textLength="28.9" lengthAdjust="spacingAndGlyphs" >MBS-1</text>
<line x1="109.20" y1="511.00" x2="133.80" y2="511.00" stroke="#F47A22" stroke-width="2.4" stroke-linecap="round"/>
<rect x="118.50" y="508.00" width="6.0" height="6.0" fill="#F47A22"/>
<text x="136.20" y="514.60" font-size="10.7" text-anchor="start" fill="#737373" font-weight="normal" font-family='"Liberation Serif", serif' textLength="29.4" lengthAdjust="spacingAndGlyphs" >MBS-2</text>
<line x1="190.20" y1="511.00" x2="214.80" y2="511.00" stroke="#A5A5A5" stroke-width="2.4" stroke-linecap="round"/>
<polygon points="202.5,507.70 205.50,513.40 199.50,513.40" fill="#A5A5A5"/>
<text x="217.20" y="514.60" font-size="10.7" text-anchor="start" fill="#737373" font-weight="normal" font-family='"Liberation Serif", serif' textLength="29.2" lengthAdjust="spacingAndGlyphs" >MBS-3</text>
<line x1="29.90" y1="523.80" x2="52.10" y2="523.80" stroke="#FFC000" stroke-width="4.8" stroke-linecap="round"/>
<circle cx="41.00" cy="523.80" r="3.4" fill="#FFC000"/>
<text x="55.70" y="527.40" font-size="10.7" text-anchor="start" fill="#737373" font-weight="normal" font-family='"Liberation Serif", serif' textLength="14.7" lengthAdjust="spacingAndGlyphs" >GA</text>
<line x1="109.10" y1="523.80" x2="133.90" y2="523.80" stroke="#1F88C8" stroke-width="2.2" stroke-linecap="round"/>
<path d="M119.34,521.64L123.66,525.96M123.66,521.64L119.34,525.96M121.50,520.80L121.50,526.80" stroke="#1F88C8" stroke-width="1.0" fill="none"/>
<text x="136.20" y="527.40" font-size="10.7" text-anchor="start" fill="#737373" font-weight="normal" font-family='"Liberation Serif", serif' textLength="12.3" lengthAdjust="spacingAndGlyphs" >RL</text>
<line x1="190.10" y1="523.80" x2="214.90" y2="523.80" stroke="#38993A" stroke-width="2.2" stroke-linecap="round"/>
<circle cx="202.50" cy="523.80" r="3.2" fill="#38993A"/>
<text x="217.20" y="527.40" font-size="10.7" text-anchor="start" fill="#737373" font-weight="normal" font-family='"Liberation Serif", serif' textLength="23.4" lengthAdjust="spacingAndGlyphs" >DQN</text>
<line x1="28.60" y1="537.30" x2="53.40" y2="537.30" stroke="#8EA9DB" stroke-width="2.2" stroke-linecap="round"/>
<path d="M38.10,537.30L43.90,537.30M41.00,534.40L41.00,540.20" stroke="#8EA9DB" stroke-width="1.0" fill="none"/>
<text x="55.70" y="540.90" font-size="10.7" text-anchor="start" fill="#737373" font-weight="normal" font-family='"Liberation Serif", serif' textLength="46.4" lengthAdjust="spacingAndGlyphs" >PER-DQN</text>
<text x="136.2" y="564.5" font-size="13" text-anchor="middle" fill="#000" font-family='"Liberation Serif", serif'>(<tspan font-weight="bold">c</tspan>)</text>
<text x="0" y="0" transform="translate(12,330) rotate(-90)" font-size="10" text-anchor="middle" fill="#737373" font-family='"Liberation Serif", serif' textLength="46" lengthAdjust="spacingAndGlyphs">× 10,000(s)</text>
<line x1="321.70" y1="321.80" x2="321.70" y2="481.60" stroke="#D9D9D9" stroke-width="1"/>
<line x1="348.96" y1="321.80" x2="348.96" y2="481.60" stroke="#D9D9D9" stroke-width="1"/>
<line x1="376.22" y1="321.80" x2="376.22" y2="481.60" stroke="#D9D9D9" stroke-width="1"/>
<line x1="403.48" y1="321.80" x2="403.48" y2="481.60" stroke="#D9D9D9" stroke-width="1"/>
<line x1="430.74" y1="321.80" x2="430.74" y2="481.60" stroke="#D9D9D9" stroke-width="1"/>
<line x1="458.00" y1="321.80" x2="458.00" y2="481.60" stroke="#D9D9D9" stroke-width="1"/>
<line x1="485.26" y1="321.80" x2="485.26" y2="481.60" stroke="#D9D9D9" stroke-width="1"/>
<line x1="512.52" y1="321.80" x2="512.52" y2="481.60" stroke="#D9D9D9" stroke-width="1"/>
<line x1="539.78" y1="321.80" x2="539.78" y2="481.60" stroke="#D9D9D9" stroke-width="1"/>
<line x1="321.70" y1="481.60" x2="539.78" y2="481.60" stroke="#D9D9D9" stroke-width="1"/>
<text x="311.20" y="325.30" font-size="10.5" text-anchor="end" fill="#737373" font-weight="normal" font-family='"Liberation Serif", serif' >800</text>
<text x="311.20" y="365.25" font-size="10.5" text-anchor="end" fill="#737373" font-weight="normal" font-family='"Liberation Serif", serif' >700</text>
<text x="311.20" y="405.20" font-size="10.5" text-anchor="end" fill="#737373" font-weight="normal" font-family='"Liberation Serif", serif' >600</text>
<text x="311.20" y="445.15" font-size="10.5" text-anchor="end" fill="#737373" font-weight="normal" font-family='"Liberation Serif", serif' >500</text>
<text x="311.20" y="485.10" font-size="10.5" text-anchor="end" fill="#737373" font-weight="normal" font-family='"Liberation Serif", serif' >400</text>
<text x="334.33" y="500.10" font-size="10.5" text-anchor="middle" fill="#737373" font-weight="normal" font-family='"Liberation Serif", serif' textLength="11.8" lengthAdjust="spacingAndGlyphs" >S1</text>
<text x="361.59" y="500.10" font-size="10.5" text-anchor="middle" fill="#737373" font-weight="normal" font-family='"Liberation Serif", serif' textLength="11.8" lengthAdjust="spacingAndGlyphs" >S2</text>
<text x="388.85" y="500.10" font-size="10.5" text-anchor="middle" fill="#737373" font-weight="normal" font-family='"Liberation Serif", serif' textLength="11.8" lengthAdjust="spacingAndGlyphs" >S3</text>
<text x="416.11" y="500.10" font-size="10.5" text-anchor="middle" fill="#737373" font-weight="normal" font-family='"Liberation Serif", serif' textLength="11.8" lengthAdjust="spacingAndGlyphs" >S4</text>
<text x="443.37" y="500.10" font-size="10.5" text-anchor="middle" fill="#737373" font-weight="normal" font-family='"Liberation Serif", serif' textLength="11.8" lengthAdjust="spacingAndGlyphs" >S5</text>
<text x="470.63" y="500.10" font-size="10.5" text-anchor="middle" fill="#737373" font-weight="normal" font-family='"Liberation Serif", serif' textLength="11.8" lengthAdjust="spacingAndGlyphs" >S6</text>
<text x="497.89" y="500.10" font-size="10.5" text-anchor="middle" fill="#737373" font-weight="normal" font-family='"Liberation Serif", serif' textLength="11.8" lengthAdjust="spacingAndGlyphs" >S7</text>
<text x="525.15" y="500.10" font-size="10.5" text-anchor="middle" fill="#737373" font-weight="normal" font-family='"Liberation Serif", serif' textLength="11.8" lengthAdjust="spacingAndGlyphs" >S8</text>
<text x="375.00" y="309.60" font-size="13.5" text-anchor="start" fill="#737373" font-weight="normal" font-family='"Liberation Serif", serif' textLength="93" lengthAdjust="spacingAndGlyphs" >Online inventory</text>
<polyline points="335.33,451.24 362.59,450.04 389.85,449.24 417.11,455.63 444.37,451.24 471.63,455.63 498.89,454.43 526.15,454.03" fill="none" stroke="#92D07E" stroke-width="3.5" stroke-linejoin="round"/>
<polygon points="335.33,445.638 340.93,451.238 335.33,456.838 329.72999999999996,451.238" fill="#2A7F2E"/>
<polygon points="362.59,444.4395 368.19,450.03950000000003 362.59,455.63950000000006 356.98999999999995,450.03950000000003" fill="#2A7F2E"/>
<polygon points="389.85,443.6405 395.45000000000005,449.2405 389.85,454.8405 384.25,449.2405" fill="#2A7F2E"/>
<polygon points="417.11,450.0325 422.71000000000004,455.63250000000005 417.11,461.2325000000001 411.51,455.63250000000005" fill="#2A7F2E"/>
<polygon points="444.37,445.638 449.97,451.238 444.37,456.838 438.77,451.238" fill="#2A7F2E"/>
<polygon points="471.63,450.0325 477.23,455.63250000000005 471.63,461.2325000000001 466.03,455.63250000000005" fill="#2A7F2E"/>
<polygon points="498.89,448.834 504.49,454.434 498.89,460.03400000000005 493.28999999999996,454.434" fill="#2A7F2E"/>
<polygon points="526.15,448.4345 531.75,454.03450000000004 526.15,459.63450000000006 520.55,454.03450000000004" fill="#2A7F2E"/>
<polyline points="335.33,408.49 362.59,409.29 389.85,380.53 417.11,394.51 444.37,378.93 471.63,395.71 498.89,390.51 526.15,397.31" fill="none" stroke="#F47A22" stroke-width="3.0" stroke-linejoin="round"/>
<rect x="331.83" y="404.99" width="7.0" height="7.0" fill="#F47A22"/>
<rect x="359.09" y="405.79" width="7.0" height="7.0" fill="#F47A22"/>
<rect x="386.35" y="377.03" width="7.0" height="7.0" fill="#F47A22"/>
<rect x="413.61" y="391.01" width="7.0" height="7.0" fill="#F47A22"/>
<rect x="440.87" y="375.43" width="7.0" height="7.0" fill="#F47A22"/>
<rect x="468.13" y="392.21" width="7.0" height="7.0" fill="#F47A22"/>
<rect x="495.39" y="387.01" width="7.0" height="7.0" fill="#F47A22"/>
<rect x="522.65" y="393.81" width="7.0" height="7.0" fill="#F47A22"/>
<polyline points="335.33,406.89 362.59,407.69 389.85,379.33 417.11,389.32 444.37,378.93 471.63,389.32 498.89,389.32 526.15,395.71" fill="none" stroke="#A5A5A5" stroke-width="2.6" stroke-linejoin="round"/>
<polygon points="335.33,403.15 338.73,409.61 331.93,409.61" fill="#A5A5A5"/>
<polygon points="362.59,403.95 365.99,410.41 359.19,410.41" fill="#A5A5A5"/>
<polygon points="389.85,375.59 393.25,382.05 386.45,382.05" fill="#A5A5A5"/>
<polygon points="417.11,385.58 420.51,392.04 413.71,392.04" fill="#A5A5A5"/>
<polygon points="444.37,375.19 447.77,381.65 440.97,381.65" fill="#A5A5A5"/>
<polygon points="471.63,385.58 475.03,392.04 468.23,392.04" fill="#A5A5A5"/>
<polygon points="498.89,385.58 502.29,392.04 495.49,392.04" fill="#A5A5A5"/>
<polygon points="526.15,391.97 529.55,398.43 522.75,398.43" fill="#A5A5A5"/>
<polyline points="335.33,472.41 362.59,470.41 389.85,472.01 417.11,471.21 444.37,472.01 471.63,472.41 498.89,472.41 526.15,472.41" fill="none" stroke="#FFC000" stroke-width="4.6" stroke-linejoin="round"/>
<circle cx="335.33" cy="472.41" r="4.2" fill="#FFC000"/>
<circle cx="362.59" cy="470.41" r="4.2" fill="#FFC000"/>
<circle cx="389.85" cy="472.01" r="4.2" fill="#FFC000"/>
<circle cx="417.11" cy="471.21" r="4.2" fill="#FFC000"/>
<circle cx="444.37" cy="472.01" r="4.2" fill="#FFC000"/>
<circle cx="471.63" cy="472.41" r="4.2" fill="#FFC000"/>
<circle cx="498.89" cy="472.41" r="4.2" fill="#FFC000"/>
<circle cx="526.15" cy="472.41" r="4.2" fill="#FFC000"/>
<polyline points="335.33,469.62 362.59,468.82 389.85,469.62 417.11,468.82 444.37,468.42 471.63,468.82 498.89,470.81 526.15,470.81" fill="none" stroke="#1F88C8" stroke-width="2.2" stroke-linejoin="round"/>
<path d="M332.31,466.59L338.35,472.64M338.35,466.59L332.31,472.64M335.33,465.42L335.33,473.81" stroke="#1F88C8" stroke-width="1.1" fill="none"/>
<path d="M359.57,465.79L365.61,471.84M365.61,465.79L359.57,471.84M362.59,464.62L362.59,473.02" stroke="#1F88C8" stroke-width="1.1" fill="none"/>
<path d="M386.83,466.59L392.87,472.64M392.87,466.59L386.83,472.64M389.85,465.42L389.85,473.81" stroke="#1F88C8" stroke-width="1.1" fill="none"/>
<path d="M414.09,465.79L420.13,471.84M420.13,465.79L414.09,471.84M417.11,464.62L417.11,473.02" stroke="#1F88C8" stroke-width="1.1" fill="none"/>
<path d="M441.35,465.39L447.39,471.44M447.39,465.39L441.35,471.44M444.37,464.22L444.37,472.62" stroke="#1F88C8" stroke-width="1.1" fill="none"/>
<path d="M468.61,465.79L474.65,471.84M474.65,465.79L468.61,471.84M471.63,464.62L471.63,473.02" stroke="#1F88C8" stroke-width="1.1" fill="none"/>
<path d="M495.87,467.79L501.91,473.84M501.91,467.79L495.87,473.84M498.89,466.61L498.89,475.01" stroke="#1F88C8" stroke-width="1.1" fill="none"/>
<path d="M523.13,467.79L529.17,473.84M529.17,467.79L523.13,473.84M526.15,466.61L526.15,475.01" stroke="#1F88C8" stroke-width="1.1" fill="none"/>
<polyline points="335.33,472.41 362.59,468.02 389.85,470.81 417.11,470.01 444.37,470.81 471.63,470.81 498.89,470.81 526.15,470.81" fill="none" stroke="#38993A" stroke-width="2.4" stroke-linejoin="round"/>
<circle cx="335.33" cy="472.41" r="4.1" fill="#38993A"/>
<circle cx="362.59" cy="468.02" r="4.1" fill="#38993A"/>
<circle cx="389.85" cy="470.81" r="4.1" fill="#38993A"/>
<circle cx="417.11" cy="470.01" r="4.1" fill="#38993A"/>
<circle cx="444.37" cy="470.81" r="4.1" fill="#38993A"/>
<circle cx="471.63" cy="470.81" r="4.1" fill="#38993A"/>
<circle cx="498.89" cy="470.81" r="4.1" fill="#38993A"/>
<circle cx="526.15" cy="470.81" r="4.1" fill="#38993A"/>
<polyline points="335.33,471.61 362.59,469.62 389.85,471.61 417.11,470.81 444.37,470.81 471.63,471.61 498.89,472.01 526.15,471.61" fill="none" stroke="#8EA9DB" stroke-width="1.9" stroke-linejoin="round"/>
<path d="M331.33,471.61L339.33,471.61M335.33,467.61L335.33,475.61" stroke="#8EA9DB" stroke-width="1.2" fill="none"/>
<path d="M358.59,469.62L366.59,469.62M362.59,465.62L362.59,473.62" stroke="#8EA9DB" stroke-width="1.2" fill="none"/>
<path d="M385.85,471.61L393.85,471.61M389.85,467.61L389.85,475.61" stroke="#8EA9DB" stroke-width="1.2" fill="none"/>
<path d="M413.11,470.81L421.11,470.81M417.11,466.81L417.11,474.81" stroke="#8EA9DB" stroke-width="1.2" fill="none"/>
<path d="M440.37,470.81L448.37,470.81M444.37,466.81L444.37,474.81" stroke="#8EA9DB" stroke-width="1.2" fill="none"/>
<path d="M467.63,471.61L475.63,471.61M471.63,467.61L471.63,475.61" stroke="#8EA9DB" stroke-width="1.2" fill="none"/>
<path d="M494.89,472.01L502.89,472.01M498.89,468.01L498.89,476.01" stroke="#8EA9DB" stroke-width="1.2" fill="none"/>
<path d="M522.15,471.61L530.15,471.61M526.15,467.61L526.15,475.61" stroke="#8EA9DB" stroke-width="1.2" fill="none"/>
<line x1="296.80" y1="511.60" x2="320.30" y2="511.60" stroke="#92D07E" stroke-width="4.0" stroke-linecap="round"/>
<polygon points="308.55,508.20000000000005 311.95,511.6 308.55,515.0 305.15000000000003,511.6" fill="#2A7F2E"/>
<text x="323.50" y="515.20" font-size="10.7" text-anchor="start" fill="#737373" font-weight="normal" font-family='"Liberation Serif", serif' textLength="28.9" lengthAdjust="spacingAndGlyphs" >MBS-1</text>
<line x1="382.70" y1="511.60" x2="407.80" y2="511.60" stroke="#F47A22" stroke-width="2.4" stroke-linecap="round"/>
<rect x="392.25" y="508.60" width="6.0" height="6.0" fill="#F47A22"/>
<text x="410.20" y="515.20" font-size="10.7" text-anchor="start" fill="#737373" font-weight="normal" font-family='"Liberation Serif", serif' textLength="29.4" lengthAdjust="spacingAndGlyphs" >MBS-2</text>
<line x1="469.40" y1="511.60" x2="494.50" y2="511.60" stroke="#A5A5A5" stroke-width="2.4" stroke-linecap="round"/>
<polygon points="481.95,508.30 484.95,514.00 478.95,514.00" fill="#A5A5A5"/>
<text x="496.90" y="515.20" font-size="10.7" text-anchor="start" fill="#737373" font-weight="normal" font-family='"Liberation Serif", serif' textLength="29.2" lengthAdjust="spacingAndGlyphs" >MBS-3</text>
<line x1="297.20" y1="525.20" x2="319.90" y2="525.20" stroke="#FFC000" stroke-width="4.8" stroke-linecap="round"/>
<circle cx="308.55" cy="525.20" r="3.4" fill="#FFC000"/>
<text x="323.50" y="528.80" font-size="10.7" text-anchor="start" fill="#737373" font-weight="normal" font-family='"Liberation Serif", serif' textLength="14.7" lengthAdjust="spacingAndGlyphs" >GA</text>
<line x1="382.60" y1="525.20" x2="407.90" y2="525.20" stroke="#1F88C8" stroke-width="2.2" stroke-linecap="round"/>
<path d="M393.09,523.04L397.41,527.36M397.41,523.04L393.09,527.36M395.25,522.20L395.25,528.20" stroke="#1F88C8" stroke-width="1.0" fill="none"/>
<text x="410.20" y="528.80" font-size="10.7" text-anchor="start" fill="#737373" font-weight="normal" font-family='"Liberation Serif", serif' textLength="12.3" lengthAdjust="spacingAndGlyphs" >RL</text>
<line x1="469.30" y1="525.20" x2="494.60" y2="525.20" stroke="#38993A" stroke-width="2.2" stroke-linecap="round"/>
<circle cx="481.95" cy="525.20" r="3.2" fill="#38993A"/>
<text x="496.90" y="528.80" font-size="10.7" text-anchor="start" fill="#737373" font-weight="normal" font-family='"Liberation Serif", serif' textLength="23.4" lengthAdjust="spacingAndGlyphs" >DQN</text>
<line x1="295.90" y1="538.50" x2="321.20" y2="538.50" stroke="#8EA9DB" stroke-width="2.2" stroke-linecap="round"/>
<path d="M305.65,538.50L311.45,538.50M308.55,535.60L308.55,541.40" stroke="#8EA9DB" stroke-width="1.0" fill="none"/>
<text x="323.50" y="542.10" font-size="10.7" text-anchor="start" fill="#737373" font-weight="normal" font-family='"Liberation Serif", serif' textLength="46.4" lengthAdjust="spacingAndGlyphs" >PER-DQN</text>
<text x="415.2" y="564.5" font-size="13" text-anchor="middle" fill="#000" font-family='"Liberation Serif", serif'>(<tspan font-weight="bold">d</tspan>)</text>
<defs><clipPath id="pe"><rect x="0" y="605.4" width="550" height="120.89999999999998"/></clipPath></defs>
<line x1="62.20" y1="605.40" x2="62.20" y2="726.30" stroke="#D9D9D9" stroke-width="1"/>
<line x1="118.15" y1="605.40" x2="118.15" y2="726.30" stroke="#D9D9D9" stroke-width="1"/>
<line x1="174.10" y1="605.40" x2="174.10" y2="726.30" stroke="#D9D9D9" stroke-width="1"/>
<line x1="230.05" y1="605.40" x2="230.05" y2="726.30" stroke="#D9D9D9" stroke-width="1"/>
<line x1="286.00" y1="605.40" x2="286.00" y2="726.30" stroke="#D9D9D9" stroke-width="1"/>
<line x1="341.95" y1="605.40" x2="341.95" y2="726.30" stroke="#D9D9D9" stroke-width="1"/>
<line x1="397.90" y1="605.40" x2="397.90" y2="726.30" stroke="#D9D9D9" stroke-width="1"/>
<line x1="453.85" y1="605.40" x2="453.85" y2="726.30" stroke="#D9D9D9" stroke-width="1"/>
<line x1="509.80" y1="605.40" x2="509.80" y2="726.30" stroke="#D9D9D9" stroke-width="1"/>
<line x1="62.20" y1="726.30" x2="509.80" y2="726.30" stroke="#D9D9D9" stroke-width="1"/>
<text x="50.80" y="729.80" font-size="10.5" text-anchor="end" fill="#737373" font-weight="normal" font-family='"Liberation Serif", serif' >5</text>
<text x="50.80" y="710.83" font-size="10.5" text-anchor="end" fill="#737373" font-weight="normal" font-family='"Liberation Serif", serif' >7.5</text>
<text x="50.80" y="691.87" font-size="10.5" text-anchor="end" fill="#737373" font-weight="normal" font-family='"Liberation Serif", serif' >10</text>
<text x="50.80" y="672.90" font-size="10.5" text-anchor="end" fill="#737373" font-weight="normal" font-family='"Liberation Serif", serif' >12.5</text>
<text x="50.80" y="653.93" font-size="10.5" text-anchor="end" fill="#737373" font-weight="normal" font-family='"Liberation Serif", serif' >15</text>
<text x="50.80" y="634.96" font-size="10.5" text-anchor="end" fill="#737373" font-weight="normal" font-family='"Liberation Serif", serif' >17.5</text>
<text x="50.80" y="616.00" font-size="10.5" text-anchor="end" fill="#737373" font-weight="normal" font-family='"Liberation Serif", serif' >20</text>
<text x="88.98" y="744.90" font-size="10.5" text-anchor="middle" fill="#737373" font-weight="normal" font-family='"Liberation Serif", serif' textLength="12" lengthAdjust="spacingAndGlyphs" >S1</text>
<text x="144.93" y="744.90" font-size="10.5" text-anchor="middle" fill="#737373" font-weight="normal" font-family='"Liberation Serif", serif' textLength="12" lengthAdjust="spacingAndGlyphs" >S2</text>
<text x="200.88" y="744.90" font-size="10.5" text-anchor="middle" fill="#737373" font-weight="normal" font-family='"Liberation Serif", serif' textLength="12" lengthAdjust="spacingAndGlyphs" >S3</text>
<text x="256.83" y="744.90" font-size="10.5" text-anchor="middle" fill="#737373" font-weight="normal" font-family='"Liberation Serif", serif' textLength="12" lengthAdjust="spacingAndGlyphs" >S4</text>
<text x="312.78" y="744.90" font-size="10.5" text-anchor="middle" fill="#737373" font-weight="normal" font-family='"Liberation Serif", serif' textLength="12" lengthAdjust="spacingAndGlyphs" >S5</text>
<text x="368.73" y="744.90" font-size="10.5" text-anchor="middle" fill="#737373" font-weight="normal" font-family='"Liberation Serif", serif' textLength="12" lengthAdjust="spacingAndGlyphs" >S6</text>
<text x="424.68" y="744.90" font-size="10.5" text-anchor="middle" fill="#737373" font-weight="normal" font-family='"Liberation Serif", serif' textLength="12" lengthAdjust="spacingAndGlyphs" >S7</text>
<text x="480.62" y="744.90" font-size="10.5" text-anchor="middle" fill="#737373" font-weight="normal" font-family='"Liberation Serif", serif' textLength="12" lengthAdjust="spacingAndGlyphs" >S8</text>
<text x="246.40" y="593.20" font-size="13.5" text-anchor="start" fill="#737373" font-weight="normal" font-family='"Liberation Serif", serif' textLength="51.8" lengthAdjust="spacingAndGlyphs" >Total cost</text>
<rect x="66.40" y="637.99" width="6.67" height="88.31" fill="#2E7D2E"/>
<rect x="73.02" y="625.47" width="6.67" height="100.83" fill="#F47C28"/>
<rect x="79.64" y="616.67" width="6.67" height="109.63" fill="#A3A3A3"/>
<rect x="86.26" y="690.72" width="6.67" height="35.58" fill="#FFC000"/>
<rect x="92.88" y="691.93" width="6.67" height="34.37" fill="#1F88C8"/>
<rect x="99.50" y="691.93" width="6.67" height="34.37" fill="#3C9A34"/>
<rect x="106.12" y="692.01" width="6.67" height="34.29" fill="#8EA6DA"/>
<rect x="122.35" y="639.28" width="6.67" height="87.02" fill="#2E7D2E"/>
<rect x="128.97" y="631.08" width="6.67" height="95.22" fill="#F47C28"/>
<rect x="135.59" y="623.88" width="6.67" height="102.42" fill="#A3A3A3"/>
<rect x="142.21" y="691.02" width="6.67" height="35.28" fill="#FFC000"/>
<rect x="148.83" y="692.31" width="6.67" height="33.99" fill="#1F88C8"/>
<rect x="155.45" y="692.31" width="6.67" height="33.99" fill="#3C9A34"/>
<rect x="162.07" y="692.61" width="6.67" height="33.69" fill="#8EA6DA"/>
<rect x="178.30" y="635.26" width="6.67" height="91.04" fill="#2E7D2E"/>
<rect x="184.92" y="628.43" width="6.67" height="97.87" fill="#F47C28"/>
<rect x="191.54" y="620.61" width="6.67" height="105.69" fill="#A3A3A3"/>
<rect x="198.16" y="687.68" width="6.67" height="38.62" fill="#FFC000"/>
<rect x="204.78" y="689.96" width="6.67" height="36.34" fill="#1F88C8"/>
<rect x="211.40" y="689.35" width="6.67" height="36.95" fill="#3C9A34"/>
<rect x="218.02" y="690.64" width="6.67" height="35.66" fill="#8EA6DA"/>
<rect x="234.25" y="639.28" width="6.67" height="87.02" fill="#2E7D2E"/>
<rect x="240.87" y="630.10" width="6.67" height="96.20" fill="#F47C28"/>
<rect x="247.49" y="622.89" width="6.67" height="103.41" fill="#A3A3A3"/>
<rect x="254.11" y="689.96" width="6.67" height="36.34" fill="#FFC000"/>
<rect x="260.73" y="692.01" width="6.67" height="34.29" fill="#1F88C8"/>
<rect x="267.35" y="692.92" width="6.67" height="33.38" fill="#3C9A34"/>
<rect x="273.97" y="692.92" width="6.67" height="33.38" fill="#8EA6DA"/>
<rect x="290.20" y="631.08" width="6.67" height="95.22" fill="#2E7D2E"/>
<rect x="296.82" y="638.59" width="6.67" height="87.71" fill="#F47C28"/>
<rect x="303.44" y="631.69" width="6.67" height="94.61" fill="#A3A3A3"/>
<rect x="310.06" y="685.71" width="6.67" height="40.59" fill="#FFC000"/>
<rect x="316.68" y="688.44" width="6.67" height="37.86" fill="#1F88C8"/>
<rect x="323.30" y="688.97" width="6.67" height="37.33" fill="#3C9A34"/>
<rect x="329.92" y="689.35" width="6.67" height="36.95" fill="#8EA6DA"/>
<rect x="346.15" y="623.88" width="6.67" height="102.42" fill="#2E7D2E"/>
<rect x="352.77" y="621.90" width="6.67" height="104.40" fill="#F47C28"/>
<rect x="359.39" y="618.03" width="6.67" height="108.27" fill="#A3A3A3"/>
<rect x="366.01" y="682.52" width="6.67" height="43.78" fill="#FFC000"/>
<rect x="372.63" y="683.43" width="6.67" height="42.87" fill="#1F88C8"/>
<rect x="379.25" y="684.12" width="6.67" height="42.18" fill="#3C9A34"/>
<rect x="385.87" y="685.10" width="6.67" height="41.20" fill="#8EA6DA"/>
<rect x="402.10" y="641.93" width="6.67" height="84.37" fill="#2E7D2E"/>
<rect x="408.72" y="631.08" width="6.67" height="95.22" fill="#F47C28"/>
<rect x="415.34" y="624.48" width="6.67" height="101.82" fill="#A3A3A3"/>
<rect x="421.96" y="692.31" width="6.67" height="33.99" fill="#FFC000"/>
<rect x="428.58" y="693.90" width="6.67" height="32.40" fill="#1F88C8"/>
<rect x="435.20" y="694.21" width="6.67" height="32.09" fill="#3C9A34"/>
<rect x="441.82" y="694.21" width="6.67" height="32.09" fill="#8EA6DA"/>
<rect x="458.05" y="619.10" width="6.67" height="107.20" fill="#2E7D2E"/>
<rect x="464.67" y="611.74" width="6.67" height="114.56" fill="#F47C28"/>
<rect x="471.29" y="605.40" width="6.67" height="120.90" fill="#A3A3A3"/>
<rect x="477.91" y="679.11" width="6.67" height="47.19" fill="#FFC000"/>
<rect x="484.53" y="682.22" width="6.67" height="44.08" fill="#1F88C8"/>
<rect x="491.15" y="683.43" width="6.67" height="42.87" fill="#3C9A34"/>
<rect x="497.77" y="684.12" width="6.67" height="42.18" fill="#8EA6DA"/>
<rect x="145.1" y="759.5" width="6.3" height="6.3" fill="#2E7D2E"/>
<text x="154.50" y="766.10" font-size="10.5" text-anchor="start" fill="#737373" font-weight="normal" font-family='"Liberation Serif", serif' textLength="29.1" lengthAdjust="spacingAndGlyphs" >MBS-1</text>
<rect x="190.2" y="759.5" width="6.3" height="6.3" fill="#F47C28"/>
<text x="198.20" y="766.10" font-size="10.5" text-anchor="start" fill="#737373" font-weight="normal" font-family='"Liberation Serif", serif' textLength="29.7" lengthAdjust="spacingAndGlyphs" >MBS-2</text>
<rect x="234.5" y="759.5" width="6.3" height="6.3" fill="#A3A3A3"/>
<text x="242.40" y="766.10" font-size="10.5" text-anchor="start" fill="#737373" font-weight="normal" font-family='"Liberation Serif", serif' textLength="30" lengthAdjust="spacingAndGlyphs" >MBS-3</text>
<rect x="278.1" y="759.5" width="6.3" height="6.3" fill="#FFC000"/>
<text x="286.90" y="766.10" font-size="10.5" text-anchor="start" fill="#737373" font-weight="normal" font-family='"Liberation Serif", serif' textLength="12.8" lengthAdjust="spacingAndGlyphs" >GA</text>
<rect x="309.3" y="759.5" width="6.3" height="6.3" fill="#1F88C8"/>
<text x="317.10" y="766.10" font-size="10.5" text-anchor="start" fill="#737373" font-weight="normal" font-family='"Liberation Serif", serif' textLength="12.5" lengthAdjust="spacingAndGlyphs" >RL</text>
<rect x="336.3" y="759.5" width="6.3" height="6.3" fill="#3C9A34"/>
<text x="345.00" y="766.10" font-size="10.5" text-anchor="start" fill="#737373" font-weight="normal" font-family='"Liberation Serif", serif' textLength="23.9" lengthAdjust="spacingAndGlyphs" >DQN</text>
<rect x="375.0" y="759.5" width="6.3" height="6.3" fill="#8EA6DA"/>
<text x="384.20" y="766.10" font-size="10.5" text-anchor="start" fill="#737373" font-weight="normal" font-family='"Liberation Serif", serif' textLength="46.2" lengthAdjust="spacingAndGlyphs" >PER-DQN</text>
<text x="272" y="793" font-size="13" text-anchor="middle" fill="#000" font-family='"Liberation Serif", serif'>(<tspan font-weight="bold">e</tspan>)</text>
<text x="0" y="0" transform="translate(27.3,633.5) rotate(-90)" font-size="10" text-anchor="middle" fill="#737373" font-family='"Liberation Serif", serif' textLength="59" lengthAdjust="spacingAndGlyphs">×1,000,000(¥)</text>
</svg></body></html>
